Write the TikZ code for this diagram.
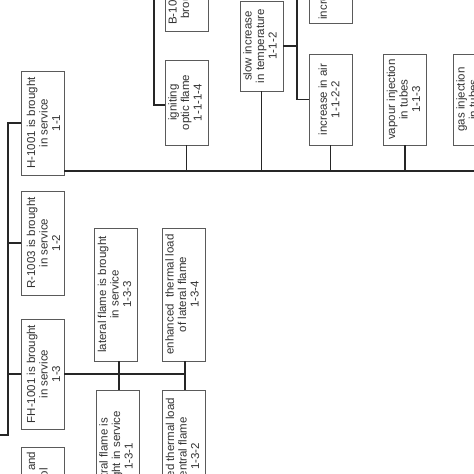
\documentclass[tikz,border=0pt]{standalone}
\usepackage{fontspec}
\setmainfont{Liberation Sans}
\usepackage{graphicx}
\definecolor{lnc}{HTML}{262626}
\definecolor{bxc}{HTML}{5A5A5A}
\definecolor{txc}{HTML}{333333}
\newcommand\rtext[1]{\rotatebox{90}{\begin{tabular}{@{}c@{}}#1\end{tabular}}}
\newcommand\srtext[1]{\hspace*{5pt}\rtext{#1}}
\tikzset{
  nbox/.style={draw=bxc, line width=0.8pt, fill=white, inner sep=0pt, text=txc,
    font=\fontsize{11.5}{12.5}\selectfont, minimum width=43},
  conn/.style={draw=lnc, line width=1.2pt},
}
\begin{document}
\begin{tikzpicture}[x=1pt,y=-1pt]
\useasboundingbox (0,0) rectangle (474,474);
\clip (0,0) rectangle (474,474);
% level 1
\node[nbox, minimum height=104] (h11) at (42.5,123) {\srtext{H-1001 is brought\\in service\\1-1}};
\node[nbox, minimum height=104] (r12) at (42.5,243) {\srtext{R-1003 is brought\\in service\\1-2}};
\node[nbox, minimum height=110] (fh13) at (42.5,374) {\srtext{FH-1001 is brought\\in service\\1-3}};
\node[nbox, minimum height=104] (fc14) at (42.5,499) {\srtext{fuel regulation and\\level control\\1-4}};
% children of 1-1
\node[nbox, minimum height=98] (b1113) at (186.5,-18) {\rtext{B-1001 blower is\\brought in use\\1-1-1-3}};
\node[nbox, minimum height=85] (io1114) at (186.5,102.5) {\rtext{igniting\\optic flame\\1-1-1-4}};
\node[nbox, minimum height=90] (s112) at (261.5,46) {\rtext{slow increase\\in temperature\\1-1-2}};
\node[nbox, minimum height=84] (f1121) at (330.5,-19) {\rtext{increase in fuel\\1-1-2-1}};
\node[nbox, minimum height=91] (a1122) at (330.5,99.5) {\rtext{increase in air\\1-1-2-2}};
\node[nbox, minimum height=91] (v113) at (405,99.5) {\rtext{vapour injection\\in tubes\\1-1-3}};
\node[nbox, minimum height=91] (g114) at (474.5,99.5) {\rtext{gas injection\\in tubes\\1-1-4}};
% children of 1-3
\node[nbox, minimum height=133] (l133) at (116,294.5) {\rtext{lateral flame is brought\\in service\\1-3-3}};
\node[nbox, minimum height=133] (e134) at (183.5,294.5) {\rtext{enhanced\ \ thermal load\\of lateral flame\\1-3-4}};
\node[nbox, minimum height=133] (c131) at (117.5,456.5) {\rtext{central flame is\\brought in service\\1-3-1}};
\node[nbox, minimum height=133] (e132) at (184,456.5) {\rtext{enhanced thermal load\\of central flame\\1-3-2}};
% trunk
\coordinate (tr) at (8,435);
\coordinate (pl) at (-20,435);
\draw[conn] (pl) -- (tr) -- (tr |- h11.west) -- (h11.west);
\draw[conn] (tr |- r12.west) -- (r12.west);
\draw[conn] (tr |- fh13.west) -- (fh13.west);
% bus of 1-1
\coordinate (bus1) at (h11.east |- 0,171);
\coordinate (bus1r) at (500,171);
\draw[conn] (bus1) -- (bus1r);
\foreach \n in {io1114,s112,a1122,v113,g114}
  \draw[conn] (\n.south) -- (\n.south |- bus1);
% bracket of 1-1-1
\coordinate (j2) at (154,105);
\draw[conn] (b1113.west) -| (j2) -- (j2 -| io1114.west);
% bracket of 1-1-2
\coordinate (j3) at (297,0);
\draw[conn] (s112.east) -- (s112.east -| j3);
\draw[conn] (f1121.west) -| (j3 |- a1122.west) -- (a1122.west);
% bus of 1-3
\coordinate (bus3) at (185,374);
\coordinate (v1) at (119,374);
\draw[conn] (fh13.east) -- (bus3);
\draw[conn] (v1 |- l133.south) -- (v1 |- c131.north);
\draw[conn] (bus3 |- e134.south) -- (bus3 |- e132.north);
\end{tikzpicture}
\end{document}
